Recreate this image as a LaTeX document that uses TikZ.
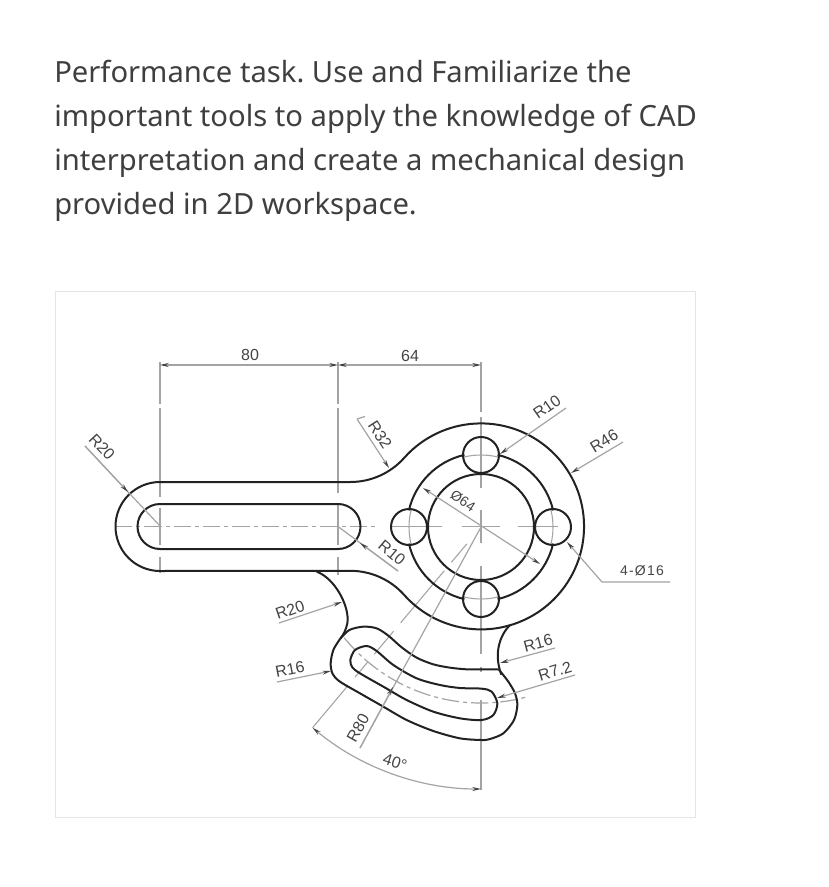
\documentclass[tikz,border=0pt]{standalone}
\usepackage{fontspec}
\setmainfont{Liberation Sans}
\newfontfamily\parafont{Noto Sans}
\usetikzlibrary{calc,arrows.meta}
\definecolor{ink}{HTML}{222222}
\definecolor{thin}{HTML}{A4A4A4}
\definecolor{lab}{HTML}{444444}
\definecolor{para}{HTML}{3F3F3F}
\tikzset{
  x=0.75pt,y=-0.75pt,
  part/.style={draw=ink,line width=1.5pt,line join=round},
  guide/.style={draw=thin,line width=0.8pt},
  chain/.style={draw=thin,line width=0.9pt,dash pattern=on 13pt off 3pt on 3pt off 3pt},
  leader/.style={draw=thin,line width=0.9pt},
  tipE/.style={-{Stealth[length=6.5pt,width=3pt,color=lab]}},
  tipBoth/.style={{Stealth[length=6.5pt,width=3pt,color=lab]}-{Stealth[length=6.5pt,width=3pt,color=lab]}},
  dimlabel/.style={text=lab,font=\fontsize{12}{13}\selectfont,inner sep=0pt},
  paraline/.style={text=para,font=\parafont\fontsize{21.9}{24}\selectfont,anchor=base west,inner sep=0pt}
}
\begin{document}
\frenchspacing
\begin{tikzpicture}
\useasboundingbox (0,0) rectangle (828,887);
\fill[white] (0,0) rectangle (828,887);
\node[paraline] (t1) at (54,83) {Performance task. Use and Familiarize the};
\node[paraline] (t2) at (54,127) {important tools to apply the knowledge of CAD};
\node[paraline] (t3) at (54,171) {interpretation and create a mechanical design};
\node[paraline] (t4) at (54,215) {provided in 2D workspace.};
\draw[draw=black!10,line width=0.6pt] (55,291) rectangle (695,817);

\coordinate (C) at (481,527);
\coordinate (SL) at (160,526.5);
\coordinate (SR) at (338,526.5);

% extension and centre lines
\draw[guide] (160,362)--(160,404) (160,408)--(160,497) (160,508)--(160,545) (160,557)--(160,573);
\draw[guide] (338,362)--(338,404) (338,408)--(338,493) (338,505)--(338,545) (338,557)--(338,575);
\draw[guide] (481,362)--(481,412) (481,417)--(481,488) (481,510)--(481,543) (481,566)--(481,640);
\draw[guide] (481,640)--(481,654) (481,667)--(481,672) (481,700)--(481,790);
\draw[chain] (115,526.5)--(375,526.5);
\draw[guide] (392,526.5)--(442,526.5) (462,526.5)--(500,526.5) (518,526.5)--(558,526.5);
\foreach \a in {0,90,180,270}
  \draw[guide] ($(C)+(\a-14:72)$) arc (\a-14:\a+14:72);
\draw[chain] ($(C)+(141:176)$) arc (141:75:176);
\draw[guide] ($(C)+(130:22)$)--($(C)+(130:46)$) ($(C)+(130:57)$)--($(C)+(130:125)$)
  ($(C)+(130:136)$)--($(C)+(130:166)$) ($(C)+(130:176)$)--($(C)+(130:196)$) ($(C)+(130:208)$)--($(C)+(130:262)$);

% part outline
\draw[part] (160,571) arc (90:270:44.5) -- (350.4,482) arc (90:41.7:72)
  arc (221.7:498.3:103) arc (-41.7:-90:72) -- cycle;
\draw[part] (160,549) arc (90:270:22.5) -- (338,504) arc (-90:90:22.5) -- cycle;
\draw[part] (C) circle (53);
\foreach \a in {0,90,180,270}{
  \draw[part] ($(C)+(\a:72)$) circle (18);
  \draw[part] ($(C)+(\a+13:74)$) arc (\a+13:\a+77:74);
}
\begin{scope}[shift={(260,570)},x=0.25pt,y=-0.25pt]
\draw[part] plot[smooth,tension=0.5] coordinates {(240,207)(268,180)(310,170)(350,175)(385,197)(425,232)(470,263)(520,283)(570,293)(620,298)(665,298)(716,298)};
\draw[part] plot[smooth,tension=0.5] coordinates {(716,298)(745,335)(765,370)(772,405)(762,450)(730,490)(690,507)(665,510)(600,505)(520,483)(440,450)(370,410)(300,370)(240,335)(218,312)(212,280)(220,240)(240,207)};
\draw[part] plot[smooth cycle,tension=0.5] coordinates {(271,270)(285,240)(320,228)(350,243)(400,285)(470,325)(540,345)(600,354)(665,356)(695,365)(712,400)(700,435)(665,450)(600,445)(520,425)(440,390)(370,350)(300,310)(277,292)};
\draw[part] (170,5) .. controls (225,25) and (270,110) .. (262,160) .. controls (258,180) and (250,195) .. (240,207);
\draw[part] (750,165) .. controls (720,195) and (700,250) .. (724,314);
\end{scope}

% linear dimensions
\coordinate (dA) at (160,365); \coordinate (dB) at (338,365);
\coordinate (dC) at (481,365); \coordinate (dB2) at (338,365);
\draw[leader,tipBoth] (dA)--(dB);
\draw[leader,tipBoth] (dB2)--(dC);
\node[dimlabel] (n80) at (250,355) {80};
\node[dimlabel] (n64) at (410,356) {64};

% radial leaders
\coordinate (a1) at (85,446); \coordinate (b1) at (160,526);
\draw[leader] (a1)--(b1);
\draw[leader,tipE] (a1)--(128,492);
\node[dimlabel,rotate=-47] (r20a) at (102,447) {R20};

\coordinate (a2) at (357,419); \coordinate (b2) at (389,468);
\draw[leader,tipE] (a2)--(b2);
\draw[leader] (a2)--(365,416.5);
\node[dimlabel,rotate=-57] (r32) at (380,435) {R32};

\coordinate (a3) at (566,408); \coordinate (b3) at (500,454);
\draw[leader,tipE] (a3)--(b3);
\node[dimlabel,rotate=35] (r10a) at (547,407) {R10};

\coordinate (a4) at (623,442); \coordinate (b4) at (571,473);
\draw[leader,tipE] (a4)--(b4);
\node[dimlabel,rotate=31] (r46) at (604,441) {R46};

\coordinate (a5) at (423,488); \coordinate (b5) at (540,564);
\draw[leader,tipBoth] (a5)--(b5);
\node[dimlabel,rotate=-33] (d64) at (463,501) {\fontsize{10.5}{11}\selectfont Ø64};

\coordinate (a6) at (398,571); \coordinate (b6) at (338,526.5);
\draw[leader] (a6)--(b6);
\draw[leader,tipE] (a6)--(360,543);
\node[dimlabel,rotate=-40] (r10b) at (392,553) {R10};

\coordinate (a7) at (670,582); \coordinate (m7) at (602,582); \coordinate (b7) at (567,542);
\draw[leader,tipE] (a7)--(m7)--(b7);
\node[dimlabel] (d16) at (642,571) {\fontsize{10.5}{11}\selectfont\addfontfeature{LetterSpace=9}4-Ø16};

\coordinate (a8) at (279,623); \coordinate (b8) at (342,602);
\draw[leader,tipE] (a8)--(b8);
\node[dimlabel,rotate=19] (r20b) at (290,610) {R20};

\coordinate (a9) at (277,682); \coordinate (b9) at (331,671);
\draw[leader,tipE] (a9)--(b9);
\node[dimlabel,rotate=11] (r16a) at (290,669) {R16};

\coordinate (a10) at (555,648); \coordinate (b10) at (500,663);
\draw[leader,tipE] (a10)--(b10);
\node[dimlabel,rotate=15] (r16b) at (538,643) {R16};

\coordinate (a11) at (575,675); \coordinate (b11) at (497,698);
\draw[leader,tipE] (a11)--(b11);
\node[dimlabel,rotate=17] (r72) at (555,671) {R7.2};

\coordinate (a12) at (360,748); \coordinate (b12) at (393,687);
\draw[leader] (a12)--(C);
\draw[leader,tipE] (a12)--(b12);
\node[dimlabel,rotate=61] (r80) at (358,728) {R80};

\draw[leader,tipBoth] ($(C)+(130:262)$) arc (130:90:262);
\node[dimlabel,rotate=-18] (a40) at (395,762) {40°};
\end{tikzpicture}
\end{document}
